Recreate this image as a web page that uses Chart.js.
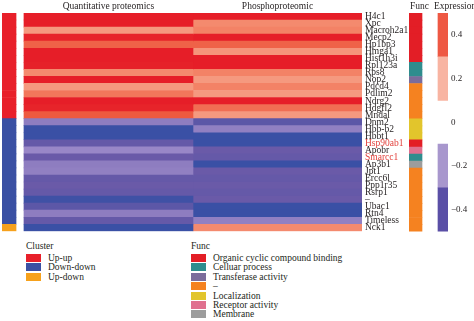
<!DOCTYPE html>
<html>
<head>
<meta charset="utf-8">
<script src="https://cdn.jsdelivr.net/npm/chart.js@4.4.1/dist/chart.umd.min.js"></script>
<style>
  body { margin: 0; width: 474px; height: 321px; background: #fff; position: relative; overflow: hidden;
         font-family: "Liberation Serif", "Times New Roman", serif; color: #231f20; }
  canvas { position: absolute; top: 0; }
  #heat { left: 0; }
  #side { left: 400px; }
  .txt { position: absolute; font-size: 9.5px; line-height: 10px; white-space: nowrap; }
  .sw { position: absolute; width: 15px; height: 8px; }
</style>
</head>
<body>
<canvas id="heat" width="408" height="240"></canvas>
<canvas id="side" width="74" height="240"></canvas>
<div class="txt" style="left:410px;top:1px">Func</div>
<div class="txt" style="left:434px;top:1px">Expression</div>
<div id="legends"></div>
<script>
// rows of the heatmap, top to bottom
const genes = ["H4c1", "Xpc", "Macroh2a1", "Mecp2", "Hp1bp3", "Hmga1", "Hist1h3i", "Rpl123a", "Rps8",
  "Nop2", "Pdcd4", "Pdlim2", "Ndrg2", "Hdgfl2", "Mndal", "Dnm2", "Hbb-b2", "Hbbt1", "Hsp90ab1",
  "Apobr", "Smarcc1", "Ap3b1", "Jpt1", "Ercc6l", "Ppp1r35", "Rsrp1", "–", "Ubac1", "Rtn4",
  "Timeless", "Nck1"];
const redGenes = ["Hsp90ab1", "Smarcc1"];

// expression values, one per gene
const quantValues = [0.62, 0.6, 0.24, 0.58, 0.38, 0.61, 0.6, 0.59, 0.28, 0.6, 0.24, 0.33, 0.6, 0.58, 0.4,
  -0.26, -0.6, -0.6, -0.42, -0.22, -0.4, -0.26, -0.25, -0.42, -0.4, -0.42, -0.58, -0.46, -0.26, -0.42, -0.6];
const phosValues = [0.6, 0.28, 0.3, 0.6, 0.38, 0.25, 0.6, 0.6, 0.3, 0.24, 0.3, 0.24, 0.6, 0.35, 0.24,
  -0.46, -0.25, -0.6, -0.6, -0.4, -0.42, -0.6, -0.4, -0.42, -0.4, -0.42, -0.4, -0.6, -0.6, -0.25, 0.28];

// cluster index per gene (0 up-up, 1 down-down, 2 up-down)
const clusterOf = [0,0,0,0,0,0,0,0,0,0,0,0,0,0,0, 1,1,1,1,1,1,1,1,1,1,1,1,1,1,1, 2];
const clusterNames = ["Up-up", "Down-down", "Up-down"];
const clusterColors = ["#e8202a", "#3a50a3", "#f6a11c"];

// function index per gene
const funcOf = [0,0,0,0,0,0,0, 1,1, 2, 3,3,3,3,3, 4,4,4, 0, 5, 1, 6, 3,3,3,3,3,3,3,3,3];
const funcNames = ["Organic cyclic compound binding", "Celluar process", "Transferase activity", "–",
  "Localization", "Receptor activity", "Membrane"];
const funcColors = ["#e31e26", "#2f8d8e", "#7b6c9b", "#f58220", "#e2c52c", "#e0708f", "#9d9d9d"];

const colTitles = ["Quantitative proteomics", "Phosphoproteomic"];
const expTicks = ["0.4", "0.2", "0", "−0.2", "−0.4"];
const expColors = ["#ee5843", "#f8b4a2", null, "#a897cd", "#5a4fa6"];

const serif = "'Liberation Serif', 'Times New Roman', serif";

//colour ramp used by the heatmap cells
const stops = [[-0.6, [58, 80, 165]], [-0.4, [106, 90, 168]], [-0.2, [158, 140, 202]],
  [0.2, [246, 168, 144]], [0.3, [243, 130, 102]], [0.4, [238, 90, 64]], [0.6, [230, 30, 40]]];
function heatColor(v) {
  if (v <= stops[0][0]) return "rgb(" + stops[0][1] + ")";
  for (let i = 1; i < stops.length; i++) {
    if (v <= stops[i][0]) {
      const [a, ca] = stops[i - 1], [b, cb] = stops[i];
      const t = (v - a) / (b - a);
      return "rgb(" + ca.map((c, k) => Math.round(c + (cb[k] - c) * t)).join(",") + ")";
    }
  }
  return "rgb(" + stops[stops.length - 1][1] + ")";
}

const cell = (a, b) => genes.map(() => [a, b]);
const barStyle = { barPercentage: 1, categoryPercentage: 1, grouped: false, borderWidth: 0 };
const noGrid = { display: false, drawTicks: false };

new Chart(document.getElementById("heat"), {
  type: "bar",
  data: {
    labels: genes,
    datasets: [
      { ...barStyle, data: cell(-0.13, -0.047), backgroundColor: clusterOf.map(c => clusterColors[c]) },
      { ...barStyle, data: cell(0, 1), backgroundColor: quantValues.map(heatColor) },
      { ...barStyle, data: cell(1, 2), backgroundColor: phosValues.map(heatColor) }
    ]
  },
  options: {
    indexAxis: "y",
    responsive: false,
    animation: false,
    layout: { padding: { left: 2, top: 0, bottom: 7 } },
    plugins: { legend: { display: false }, tooltip: { enabled: false } },
    scales: {
      x: {
        type: "linear", position: "top", min: -0.13, max: 2,
        grid: noGrid, border: { display: false },
        afterBuildTicks: s => { s.ticks = [{ value: 0.5 }, { value: 1.5 }]; },
        afterFit: s => { s.height = 13; },
        ticks: {
          autoSkip: false, maxRotation: 0, padding: 1, color: "#231f20",
          font: { family: serif, size: 9.5 },
          callback: (v, i) => colTitles[i]
        }
      },
      y: {
        position: "right",
        grid: noGrid, border: { display: false },
        afterFit: s => { s.width = 46; },
        ticks: {
          autoSkip: false, padding: 3,
          font: { family: serif, size: 9.5 },
          color: c => redGenes.includes(genes[c.index]) ? "#e2413c" : "#231f20"
        }
      }
    }
  }
});

new Chart(document.getElementById("side"), {
  type: "bar",
  data: {
    labels: genes,
    datasets: [
      { ...barStyle, yAxisID: "y", data: cell(0, 1), backgroundColor: funcOf.map(f => funcColors[f]) },
      { ...barStyle, yAxisID: "yc", data: expColors.map(c => c ? [2.23, 3] : null), backgroundColor: expColors }
    ]
  },
  options: {
    indexAxis: "y",
    responsive: false,
    animation: false,
    layout: { padding: { left: 9, top: 13, bottom: 7 } },
    plugins: { legend: { display: false }, tooltip: { enabled: false } },
    scales: {
      x: { type: "linear", min: 0, max: 3, display: false },
      y: { display: false },
      yc: {
        type: "category", labels: expTicks, position: "right",
        grid: noGrid, border: { display: false },
        afterFit: s => { s.width = 26; },
        ticks: { padding: 3, color: "#231f20", font: { family: serif, size: 9 } }
      }
    }
  }
});

// the two legends under the heatmap
function legend(title, names, colors, left) {
  const box = document.getElementById("legends");
  let h = document.createElement("div");
  h.className = "txt";
  h.style.left = left + "px";
  h.style.top = "241px";
  h.textContent = title;
  box.appendChild(h);
  names.forEach((n, i) => {
    const top = 254 + i * 9.4;
    const sw = document.createElement("div");
    sw.className = "sw";
    sw.style.left = left + "px";
    sw.style.top = top + "px";
    sw.style.background = colors[i];
    box.appendChild(sw);
    const t = document.createElement("div");
    t.className = "txt";
    t.style.left = (left + 22) + "px";
    t.style.top = (top - 1) + "px";
    t.textContent = n;
    box.appendChild(t);
  });
}
legend("Cluster", clusterNames, clusterColors, 26);
legend("Func", funcNames, funcColors, 191);
</script>
</body>
</html>
